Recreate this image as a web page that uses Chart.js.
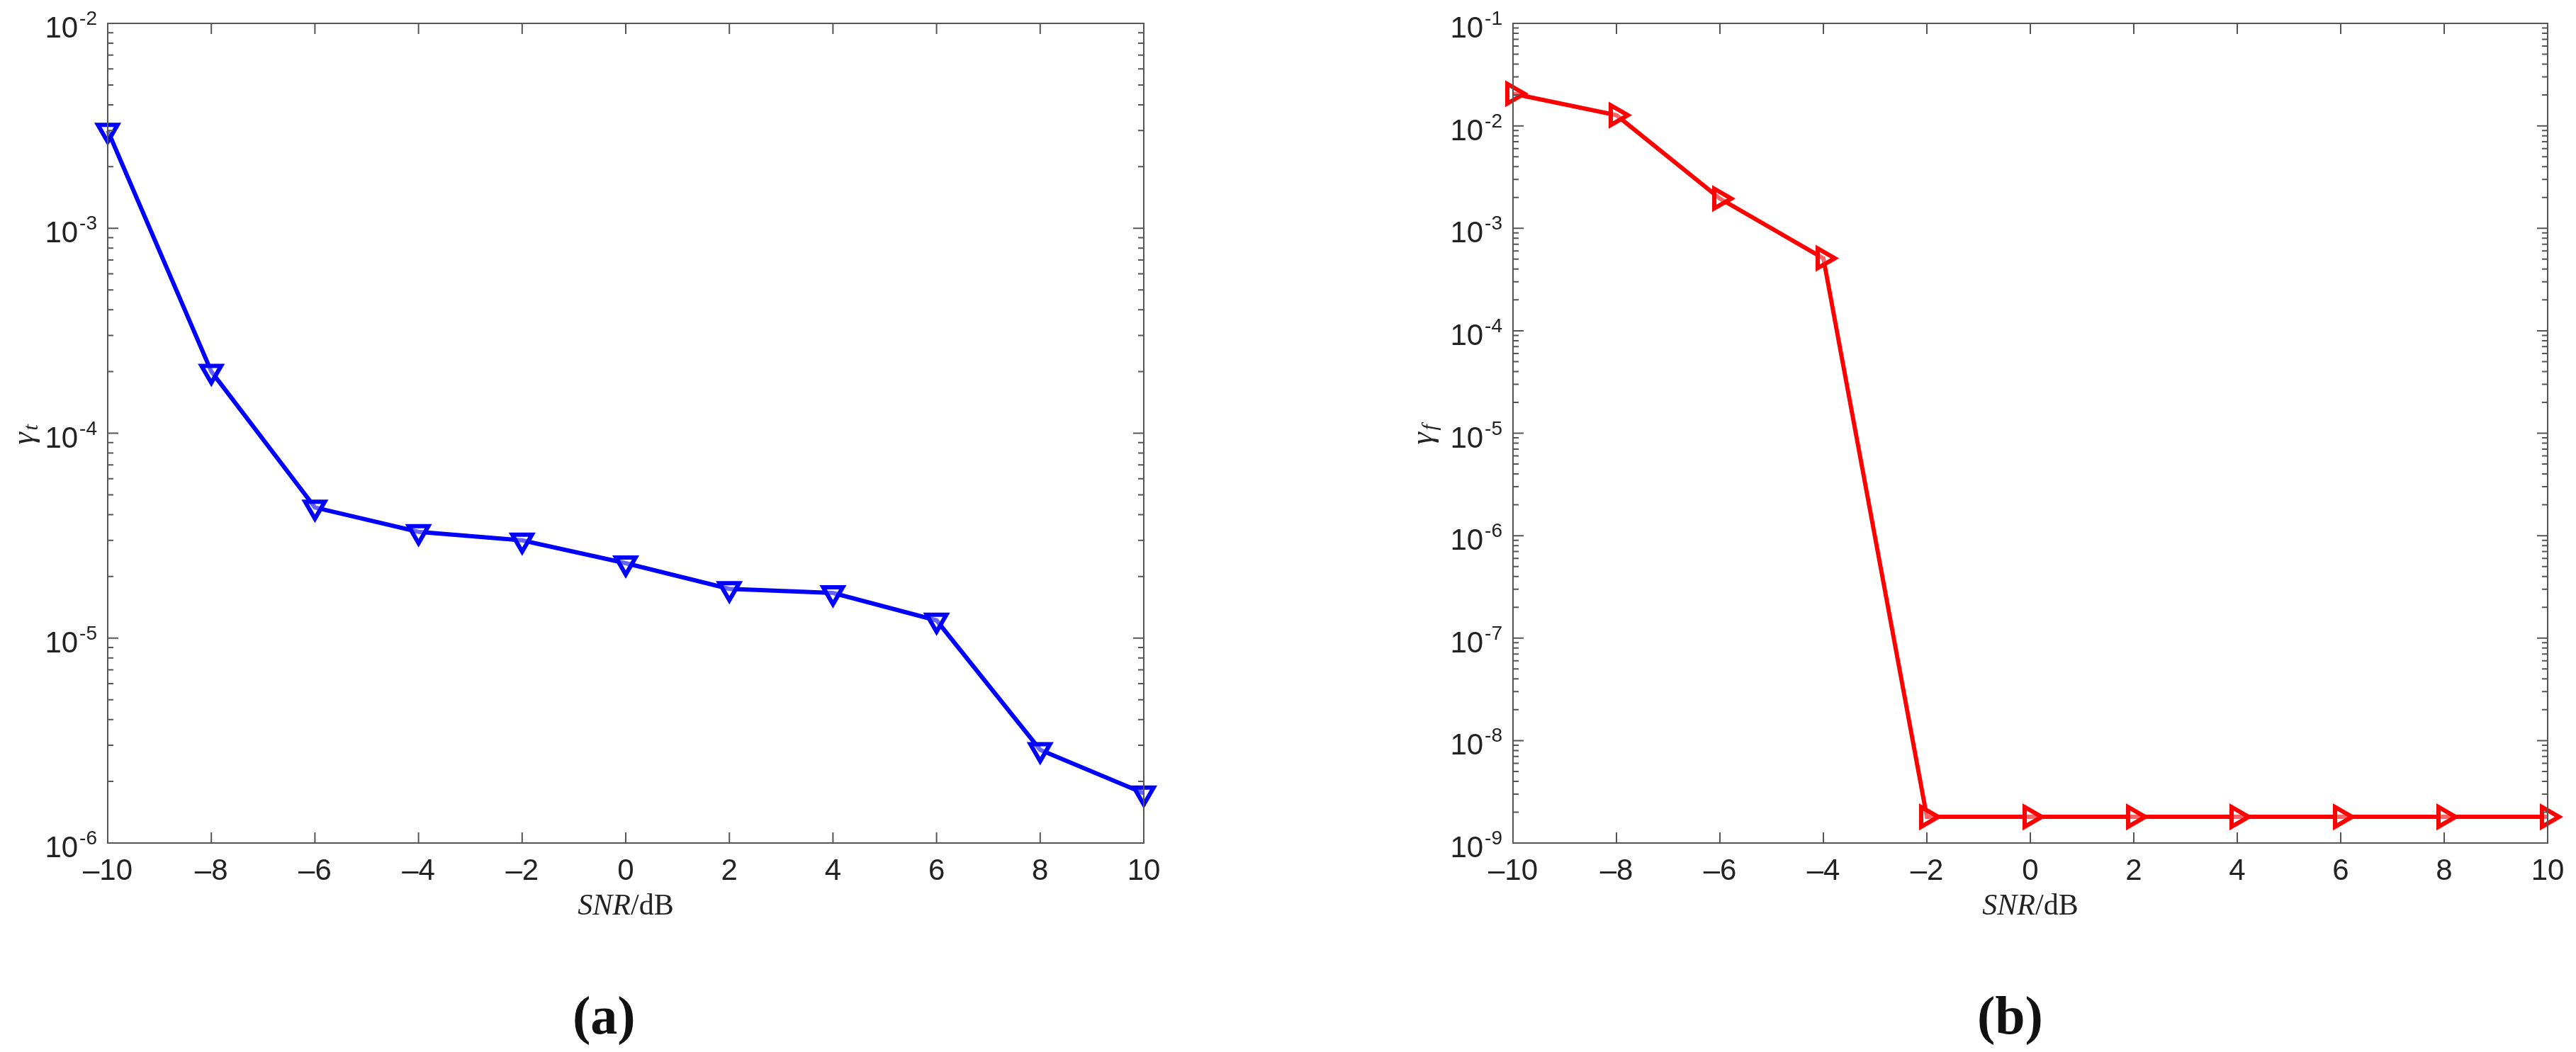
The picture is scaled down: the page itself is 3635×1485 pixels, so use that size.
<!DOCTYPE html>
<html><head><meta charset="utf-8">
<script src="https://cdn.jsdelivr.net/npm/chart.js@4/dist/chart.umd.min.js"></script>
<style>
html,body{margin:0;padding:0;background:#fff;width:3635px;height:1485px;overflow:hidden}
.w{position:absolute;top:0;width:1818px;height:1300px}
.cap{position:absolute;top:1390px;font:bold 76px "Liberation Serif",serif;color:#111}
</style></head><body>
<div class="w" style="left:0"><canvas id="c1" width="1818" height="1300"></canvas></div>
<div class="w" style="left:1818px"><canvas id="c2" width="1818" height="1300"></canvas></div>
<div class="cap" style="left:808px">(<span>a</span>)</div>
<div class="cap" style="left:2790px">(<span>b</span>)</div>
<script>
const snr = [-10,-8,-6,-4,-2,0,2,4,6,8,10];
const gammaT = [3.0e-3,2.0e-4,4.34e-5,3.3e-5,3.0e-5,2.32e-5,1.74e-5,1.66e-5,1.22e-5,2.85e-6,1.75e-6];
const gammaF = [2.06e-2,1.27e-2,1.95e-3,5.1e-4,1.8e-9,1.8e-9,1.8e-9,1.8e-9,1.8e-9,1.8e-9,1.8e-9];
const xTicks = [-10,-8,-6,-4,-2,0,2,4,6,8,10];
const yExpA = [-6,-5,-4,-3,-2];
const yExpB = [-9,-8,-7,-6,-5,-4,-3,-2,-1];

function deco(exps, sub){
  return {id:'deco', afterDraw(ch){
    const c=ch.ctx, a=ch.chartArea, xs=ch.scales.x, ys=ch.scales.y;
    c.save(); c.strokeStyle='#555'; c.lineWidth=2;
    c.strokeRect(a.left,a.top,a.right-a.left,a.bottom-a.top);
    c.beginPath();
    xTicks.forEach(v=>{const x=xs.getPixelForValue(v);
      c.moveTo(x,a.bottom);c.lineTo(x,a.bottom-15);c.moveTo(x,a.top);c.lineTo(x,a.top+15);});
    for(let e=exps[0];e<=exps[exps.length-1];e++){
      for(let m=1;m<=9;m++){ if(e===exps[exps.length-1]&&m>1)break;
        const y=ys.getPixelForValue(m*Math.pow(10,e)); const L=m===1?15:8;
        c.moveTo(a.left,y);c.lineTo(a.left+L,y);c.moveTo(a.right,y);c.lineTo(a.right-L,y);}
    }
    c.stroke();
    c.fillStyle='#222';
    c.font='42px "Liberation Sans",Arial'; c.textAlign='center'; c.textBaseline='middle';
    xTicks.forEach(v=>c.fillText(v<0?'\u2013'+(-v):String(v), xs.getPixelForValue(v), a.bottom+40));
    exps.forEach(e=>{const y=ys.getPixelForValue(Math.pow(10,e));
      c.font='28px "Liberation Sans",Arial'; c.textAlign='right'; c.textBaseline='alphabetic';
      const es='-'+(-e); const ew=c.measureText(es).width;
      c.fillText(es,a.left-15,y+2);
      c.font='42px "Liberation Sans",Arial';
      c.fillText('10',a.left-17-ew,y+20);});
    c.textAlign='left'; c.textBaseline='middle';
    c.font='italic 42px "Liberation Serif",serif'; const w1=c.measureText('SNR').width;
    c.font='42px "Liberation Serif",serif'; const w2=c.measureText('/dB').width;
    const cx=(a.left+a.right)/2, sx=cx-(w1+w2)/2;
    c.font='italic 42px "Liberation Serif",serif'; c.fillText('SNR',sx,1280);
    c.font='42px "Liberation Serif",serif'; c.fillText('/dB',sx+w1,1280);
    c.translate(sub.x,(a.top+a.bottom)/2); c.rotate(-Math.PI/2);
    c.font='italic 44px "Liberation Serif",serif'; c.fillText('\u03b3',-16,0);
    c.font='italic 30px "Liberation Serif",serif'; c.fillText(sub.t,4,10);
    c.restore();
  }};
}
function make(id,data,color,rot,exps,pad,yw,sub){
  new Chart(document.getElementById(id),{type:'line',
    data:{labels:snr,datasets:[{data:snr.map((x,i)=>({x,y:data[i]})),borderColor:color,borderWidth:6,
      pointStyle:'triangle',rotation:rot,pointRadius:16,pointBorderWidth:6,pointBackgroundColor:'rgba(255,255,255,0.4)',pointBorderColor:color,tension:0}]},
    options:{responsive:false,animation:false,clip:false,layout:{padding:pad},
      plugins:{legend:{display:false},tooltip:{enabled:false}},
      scales:{
        x:{type:'linear',min:-10,max:10,grid:{display:false},border:{display:false},ticks:{display:false},
          afterFit(s){s.height=1300-1190;}},
        y:{type:'logarithmic',min:Math.pow(10,exps[0]),max:Math.pow(10,exps[exps.length-1]),grid:{display:false},border:{display:false},ticks:{display:false},
          afterFit(s){s.width=yw;}}
      }},
    plugins:[deco(exps,sub)]});
}
make('c1',gammaT,'#0000ff',180,yExpA,{left:0,right:204,top:33,bottom:0},152,{x:35,t:'t'});
make('c2',gammaF,'#ff0000',90,yExpB,{left:170,right:41,top:33,bottom:0},147,{x:191,t:'f'});
</script></body></html>
